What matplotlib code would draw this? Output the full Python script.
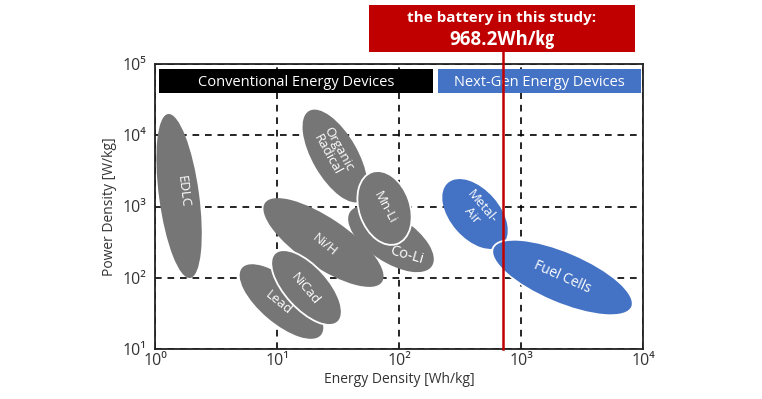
import numpy as np
import matplotlib
matplotlib.use("Agg")
import matplotlib.pyplot as plt
from matplotlib.patches import Ellipse, Rectangle
from matplotlib.transforms import IdentityTransform

plt.rcParams['font.family'] = ['Open Sans', 'Noto Sans CJK JP', 'DejaVu Sans']

# ---- data ----
names = ["EDLC", "Organic\nRadical", "Co-Li", "Mn-Li", "Ni/H", "Lead", "NiCad", "Metal-\nAir", "Fuel Cells"]
# two tips of each region along its long axis: (energy Wh/kg, power W/kg)
tip1_energy = [1.28, 18.3, 39.7, 60.1, 7.97, 5.17, 9.63, 252, 589]
tip1_power = [19860, 21900, 837, 3048, 1119, 137, 222, 2140, 262]
tip2_energy = [1.94, 48.8, 186, 96.3, 72.5, 22.9, 31.6, 699, 8128]
tip2_power = [99.2, 1194, 146, 298, 87.2, 15.7, 23.9, 288, 38.8]
group = ["conv", "conv", "conv", "conv", "conv", "conv", "conv", "next", "next"]
study_energy_label = "968.2Wh/㎏"
study_line_x = 710  # position of the red line as drawn in the picture

x_ticks = [1, 10, 100, 1000, 10000]
x_ticklabels = ["10⁰", "10¹", "10²", "10³", "10⁴"]
y_ticks = [10, 100, 1000, 10000, 100000]
y_ticklabels = ["10¹", "10²", "10³", "10⁴", "10⁵"]

# ---- style ----
minor_px = [40, 45, 46, 51, 49, 43, 43, 49, 51]
outline = [False, False, False, True, False, False, True, False, True]
label_rot = [-83, -61, -16, -62, -39, -39, -50, -50, -24]
label_off = [(4, 4), (-2, 4), (16, -16), (0, 0), (1, -2), (-3, -1), (-1, -1), (2, 3), (0, 0)]
label_size = [9.5, 9.5, 10.5, 9.5, 9.5, 9.5, 9.5, 9.5, 10]
GRAY = "#767676"
BLUE = "#4472C4"
RED = "#C00000"

W, H = 762, 399
fig = plt.figure(figsize=(W / 100, H / 100), dpi=100)
ax = fig.add_axes([155 / W, 1 - 349 / H, (643 - 155) / W, (349 - 64) / H])
ax.set_xscale("log")
ax.set_yscale("log")
ax.set_xlim(1, 1e4)
ax.set_ylim(10, 1e5)
ax.set_xticks(x_ticks, x_ticklabels)
ax.set_yticks(y_ticks, y_ticklabels)
ax.minorticks_off()
ax.tick_params(length=0, labelsize=11.5, labelcolor="#333333", pad=3)
ax.tick_params(axis="y", pad=6)
ax.grid(True, color="black", linestyle=(0, (4, 3.5)), linewidth=1.2)
ax.set_axisbelow(True)
for s in ax.spines.values():
    s.set_linewidth(1.3)
    s.set_color("#222222")
ax.set_xlabel("Energy Density [Wh/kg]", fontsize=10, color="#333333", labelpad=2)
ax.set_ylabel("Power Density [W/kg]", fontsize=10, color="#333333", labelpad=4)

# ellipses computed in display space
for i, nm in enumerate(names):
    p1 = ax.transData.transform((tip1_energy[i], tip1_power[i]))
    p2 = ax.transData.transform((tip2_energy[i], tip2_power[i]))
    c = (p1 + p2) / 2
    d = p2 - p1
    length = np.hypot(*d)
    ang = np.degrees(np.arctan2(d[1], d[0]))
    col = GRAY if group[i] == "conv" else BLUE
    e = Ellipse(c, length, minor_px[i], angle=ang, transform=IdentityTransform(),
                facecolor=col, edgecolor="white" if outline[i] else "none",
                linewidth=1.3 if outline[i] else 0, zorder=3 + i * 0.1)
    ax.add_patch(e)
    cx, cy = c[0] + label_off[i][0], c[1] + label_off[i][1]
    ax.text(cx, cy, nm, transform=IdentityTransform(), color="white", fontsize=label_size[i],
            rotation=label_rot[i], rotation_mode="anchor", ha="center", va="center",
            linespacing=0.9, zorder=5)

# header bars (axes coordinates)
ax.add_patch(Rectangle(((159 - 155) / 488, (349 - 93) / 285), (433 - 159) / 488, 24 / 285,
                       transform=ax.transAxes, facecolor="black", zorder=4))
ax.text(((159 + 433) / 2 - 155) / 488, (349 - 82) / 285, "Conventional Energy Devices",
        transform=ax.transAxes, color="white", fontsize=10.5, ha="center", va="center", zorder=5)
ax.add_patch(Rectangle(((438 - 155) / 488, (349 - 93) / 285), (641 - 438) / 488, 24 / 285,
                       transform=ax.transAxes, facecolor=BLUE, zorder=4))
ax.text(((438 + 641) / 2 - 155) / 488, (349 - 82) / 285, "Next-Gen Energy Devices",
        transform=ax.transAxes, color="white", fontsize=10.5, ha="center", va="center", zorder=5)

# red study line and box
ax.axvline(study_line_x, ymin=0, ymax=(349 - 52) / 285, color=RED, linewidth=1.8,
           clip_on=False, zorder=6)
fig.add_artist(Rectangle((369 / W, 1 - 52 / H), (635 - 369) / W, 47 / H,
                         transform=fig.transFigure, facecolor=RED, edgecolor="none"))
fig.text(502 / W, 1 - 18 / H, "the battery in this study:", color="white", fontsize=11,
         fontweight="bold", ha="center", va="center")
fig.text(502 / W, 1 - 40 / H, study_energy_label, color="white", fontsize=13.5,
         fontweight="bold", ha="center", va="center")

fig.savefig("out.png", dpi=100)
